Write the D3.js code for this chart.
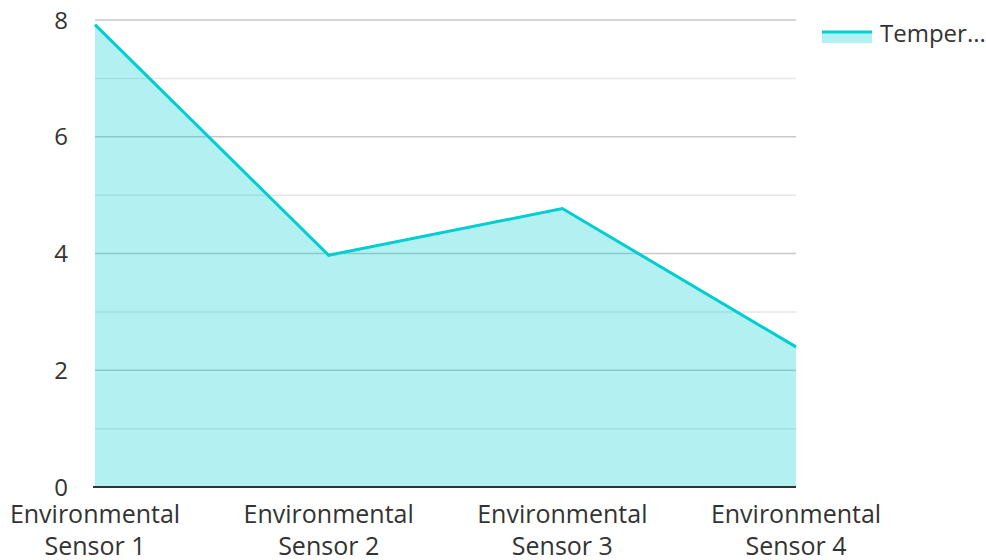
<!DOCTYPE html>
<html><head><meta charset="utf-8">
<script src="https://cdn.jsdelivr.net/npm/d3@7"></script>
<style>body{margin:0;background:#fff}svg{display:block}text{font-family:"Open Sans",sans-serif;fill:#333}</style>
</head><body><svg id="c" width="986" height="560"></svg>
<script>
const categories = ["Environmental Sensor 1","Environmental Sensor 2","Environmental Sensor 3","Environmental Sensor 4"];
const temperature = [7.92, 3.97, 4.77, 2.4];
const yTicks = [0,2,4,6,8];
const seriesName = "Temper...";

const svg = d3.select("#c");
const L=95,R=796,T=20,B=487;
const x = d3.scalePoint().domain(categories).range([L,R]);
const y = d3.scaleLinear().domain([0,8]).range([B,T]);

// minor grid
svg.append("g").selectAll("line").data(d3.range(1,8,2)).join("line")
  .attr("x1",L).attr("x2",R).attr("y1",d=>y(d)).attr("y2",d=>y(d))
  .attr("stroke","#e6e6e6").attr("stroke-width",1.5);
// major grid
svg.append("g").selectAll("line").data(yTicks.filter(d=>d>0)).join("line")
  .attr("x1",L).attr("x2",R).attr("y1",d=>y(d)).attr("y2",d=>y(d))
  .attr("stroke","#c8c8c8").attr("stroke-width",1.5);

const data = categories.map((c,i)=>({c,v:temperature[i]}));
svg.append("path").datum(data)
  .attr("d",d3.area().x(d=>x(d.c)).y0(B).y1(d=>y(d.v)))
  .attr("fill","rgba(0,206,209,0.3)");
svg.append("path").datum(data)
  .attr("d",d3.line().x(d=>x(d.c)).y(d=>y(d.v)))
  .attr("fill","none").attr("stroke","#00CED1").attr("stroke-width",3);

// baseline
svg.append("line").attr("x1",L-2).attr("x2",R).attr("y1",B).attr("y2",B)
  .attr("stroke","#333").attr("stroke-width",2);

// y labels
svg.append("g").selectAll("text").data(yTicks).join("text")
  .attr("x",68).attr("y",d=>y(d)).attr("dy","0.36em").attr("text-anchor","end")
  .attr("font-size",24).text(d=>d);

// x labels
const xl = svg.append("g").selectAll("text").data(categories).join("text")
  .attr("x",d=>x(d)).attr("y",523).attr("text-anchor","middle").attr("font-size",25);
xl.each(function(d){
  const parts = d.split(" ");
  const l1 = parts.slice(0,1).join(" "), l2 = parts.slice(1).join(" ");
  d3.select(this).append("tspan").attr("x",x(d)).attr("dy",0).text(l1);
  d3.select(this).append("tspan").attr("x",x(d)).attr("dy",32).text(l2);
});

// legend
const lg = svg.append("g");
lg.append("rect").attr("x",822).attr("y",31).attr("width",50).attr("height",12).attr("fill","rgba(0,206,209,0.3)");
lg.append("line").attr("x1",822).attr("x2",872).attr("y1",32).attr("y2",32).attr("stroke","#00CED1").attr("stroke-width",3);
lg.append("text").attr("x",880).attr("y",33).attr("dy","0.36em").attr("font-size",24).text(seriesName);
</script></body></html>
